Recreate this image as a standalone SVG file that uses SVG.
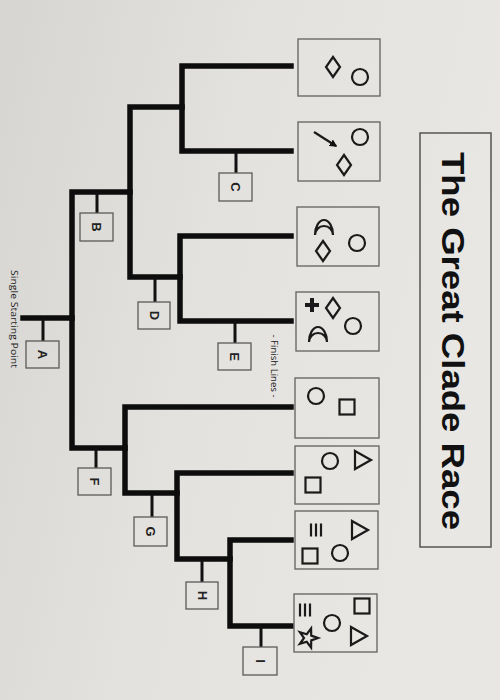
<svg xmlns="http://www.w3.org/2000/svg" width="500" height="700" viewBox="0 0 500 700">
<defs>
<linearGradient id="bg" x1="0" y1="0" x2="1" y2="0.3">
<stop offset="0" stop-color="#d6d5d2"/>
<stop offset="0.5" stop-color="#e4e2de"/>
<stop offset="1" stop-color="#e9e7e3"/>
</linearGradient>
<marker id="ah" viewBox="0 0 10 10" refX="8" refY="5" markerWidth="3.5" markerHeight="3.5" orient="auto">
<path d="M0,0 L10,5 L0,10 Z" fill="#111"/>
</marker>
<polygon id="dia" points="0,-10 7,0 0,10 -7,0"/>
<polygon id="tri" points="-8,-9 8,0 -8,9"/>
<rect id="sq" x="-7.5" y="-7.5" width="15" height="15"/>
<circle id="cir" r="8"/>
<path id="cres" d="M-9,7 A9,15 0 0 1 9,7 A9,9 0 0 0 -9,7 Z"/>
<g id="bars"><line x1="-5" y1="-6.5" x2="-5" y2="6.5"/><line x1="0" y1="-6.5" x2="0" y2="6.5"/><line x1="5" y1="-6.5" x2="5" y2="6.5"/></g>
<polygon id="star" points="0,-10 2.35,-3.24 9.51,-3.09 3.8,1.24 5.88,8.09 0,4 -5.88,8.09 -3.8,1.24 -9.51,-3.09 -2.35,-3.24"/>
</defs>
<style>
.tree{fill:none;stroke:#0d0d0d;stroke-width:5.5;stroke-linejoin:miter;stroke-linecap:square}
.stub{fill:none;stroke:#111;stroke-width:3}
.lbox{fill:none;stroke:#5a5a5a;stroke-width:1.3}
.tip{fill:none;stroke:#6a6a6a;stroke-width:1.4}
.lbl{font-family:"Liberation Sans",Arial,sans-serif;font-weight:bold;font-size:13px;fill:#222;text-anchor:middle;dominant-baseline:central}
.sym{fill:none;stroke:#1a1a1a;stroke-width:2.2}
.plus{fill:none;stroke:#1a1a1a;stroke-width:4}
.small{font-family:"Open Sans","Liberation Sans",sans-serif;font-size:9px;fill:#222;text-anchor:middle;dominant-baseline:central}
.title{font-family:"Liberation Sans",Arial,sans-serif;font-weight:bold;font-size:31px;fill:#111;text-anchor:middle;dominant-baseline:central}
</style>
<rect x="0" y="0" width="500" height="700" fill="url(#bg)"/>

<g id="connectors">
<path class="tree" d="M291,66 H182 V151 H291"/>
<path class="tree" d="M182,107 H130 V277 H180"/>
<path class="tree" d="M291,236 H180 V321 H291"/>
<path class="tree" d="M130,192 H72 V448 H125"/>
<path class="tree" d="M23,318 H72"/>
<path class="tree" d="M291,407 H125 V493 H177"/>
<path class="tree" d="M291,473 H177 V559 H230"/>
<path class="tree" d="M291,540 H230 V626 H291"/>
<path class="stub" d="M43,318 V341"/>
<path class="stub" d="M97,192 V213"/>
<path class="stub" d="M236,151 V173"/>
<path class="stub" d="M155,277 V302"/>
<path class="stub" d="M235,321 V343"/>
<path class="stub" d="M96,448 V468"/>
<path class="stub" d="M152,493 V517"/>
<path class="stub" d="M202,559 V582"/>
<path class="stub" d="M261,626 V647"/>
</g>

<g id="node-A"><rect class="lbox" x="26" y="341" width="33" height="27"/><text class="lbl" transform="rotate(90 42.5 354.5)" x="42.5" y="354.5">A</text></g>
<g id="node-B"><rect class="lbox" x="80" y="213" width="33" height="28"/><text class="lbl" transform="rotate(90 96.5 227)" x="96.5" y="227">B</text></g>
<g id="node-C"><rect class="lbox" x="219" y="173" width="33" height="28"/><text class="lbl" transform="rotate(90 235.5 187)" x="235.5" y="187">C</text></g>
<g id="node-D"><rect class="lbox" x="138" y="302" width="32" height="27"/><text class="lbl" transform="rotate(90 154 315.5)" x="154" y="315.5">D</text></g>
<g id="node-E"><rect class="lbox" x="218" y="343" width="33" height="27"/><text class="lbl" transform="rotate(90 234.5 356.5)" x="234.5" y="356.5">E</text></g>
<g id="node-F"><rect class="lbox" x="78" y="468" width="33" height="27"/><text class="lbl" transform="rotate(90 94.5 481.5)" x="94.5" y="481.5">F</text></g>
<g id="node-G"><rect class="lbox" x="134" y="517" width="33" height="29"/><text class="lbl" transform="rotate(90 150.5 531.5)" x="150.5" y="531.5">G</text></g>
<g id="node-H"><rect class="lbox" x="186" y="582" width="32" height="27"/><text class="lbl" transform="rotate(90 202 595.5)" x="202" y="595.5">H</text></g>
<g id="node-I"><rect class="lbox" x="243" y="647" width="34" height="28"/><text class="lbl" transform="rotate(90 260 661)" x="260" y="661">I</text></g>

<g id="start-label"><text class="small" transform="rotate(90 14 319)" x="14" y="319" textLength="98" lengthAdjust="spacingAndGlyphs">Single Starting Point</text></g>
<g id="finish-label"><text class="small" transform="rotate(90 274 366)" x="274" y="366" textLength="63" lengthAdjust="spacingAndGlyphs">- Finish Lines -</text></g>

<g id="tip-1"><rect class="tip" x="298" y="39" width="82" height="57"/>
<use href="#dia" class="sym" x="333" y="67"/><use href="#cir" class="sym" x="360" y="77"/></g>
<g id="tip-2"><rect class="tip" x="298" y="122" width="82" height="59"/>
<line class="sym" x1="314" y1="132" x2="336" y2="146" marker-end="url(#ah)"/>
<use href="#cir" class="sym" x="360" y="137"/><use href="#dia" class="sym" x="344" y="165"/></g>
<g id="tip-3"><rect class="tip" x="297" y="207" width="82" height="59"/>
<use href="#cres" class="sym" x="324" y="228"/><use href="#dia" class="sym" x="323" y="251"/><use href="#cir" class="sym" x="357" y="243"/></g>
<g id="tip-4"><rect class="tip" x="296" y="292" width="83" height="59"/>
<path class="plus" d="M305,305 H319 M312,298 V312"/>
<use href="#dia" class="sym" x="333" y="308"/><use href="#cir" class="sym" x="353" y="326"/><use href="#cres" class="sym" x="318" y="335"/></g>
<g id="tip-5"><rect class="tip" x="295" y="378" width="84" height="60"/>
<use href="#cir" class="sym" x="316" y="396"/><use href="#sq" class="sym" x="347" y="407"/></g>
<g id="tip-6"><rect class="tip" x="295" y="446" width="84" height="58"/>
<use href="#tri" class="sym" x="363" y="460"/><use href="#cir" class="sym" x="330" y="461"/><use href="#sq" class="sym" x="313" y="485"/></g>
<g id="tip-7"><rect class="tip" x="295" y="511" width="83" height="58"/>
<use href="#bars" class="sym" x="316" y="530"/><use href="#tri" class="sym" x="360" y="530"/><use href="#sq" class="sym" x="310" y="556"/><use href="#cir" class="sym" x="340" y="553"/></g>
<g id="tip-8"><rect class="tip" x="294" y="594" width="83" height="58"/>
<use href="#bars" class="sym" x="305" y="610"/><use href="#sq" class="sym" x="362" y="606"/><use href="#cir" class="sym" x="332" y="623"/><use href="#tri" class="sym" x="359" y="636"/>
<use href="#star" class="sym" transform="translate(308 638) rotate(90)"/></g>

<g id="title"><rect x="420" y="133" width="71" height="414" fill="none" stroke="#555" stroke-width="1.5"/>
<text class="title" transform="rotate(90 452 341)" x="452" y="341" textLength="378" lengthAdjust="spacingAndGlyphs">The Great Clade Race</text></g>
</svg>
